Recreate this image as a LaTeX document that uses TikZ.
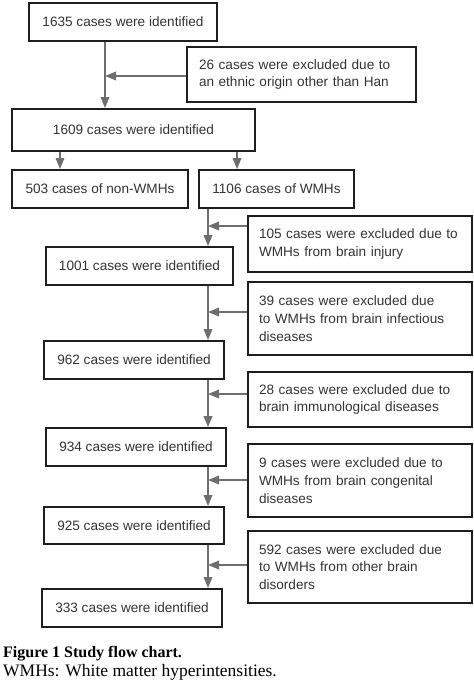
\documentclass[tikz,border=0pt]{standalone}
\usepackage{fontspec}
\setmainfont{Liberation Sans}
\newfontfamily\capfont{Liberation Serif}
\usepackage{xcolor}
\usetikzlibrary{arrows.meta, positioning}
\definecolor{linegray}{HTML}{6E6E6E}
\definecolor{boxline}{HTML}{1E1E1E}
\definecolor{boxtext}{HTML}{333333}
\tikzset{box/.style={draw=boxline, line width=1.8pt, minimum height=38pt, inner sep=0pt,
		text=boxtext, font=\fontsize{13.6}{17.7}\selectfont}}
\tikzset{exbox/.style={box, align=left, text width=#1, inner xsep=11pt}}
\tikzset{arr/.style={draw=linegray, line width=1.8pt, -{Triangle[length=11pt,width=8.5pt,fill=linegray]}}}
\tikzset{capt/.style={anchor=base west, inner sep=0pt, text=black}}

\begin{document}
\begin{tikzpicture}[x=1pt,y=-1pt]
			\useasboundingbox (0,0) rectangle (474,681);
			\node[box, minimum width=188pt] (b1635) at (123,22) {1635 cases were identified};
			\node[exbox=205pt, inner xsep=12pt, minimum height=55pt] (ex26) at (301.5,74.5) {26 cases were excluded due to\\an ethnic origin other than Han};
			\node[box, minimum width=243pt, minimum height=42pt] (b1609) at (133.5,130) {1609 cases were identified};
			\node[box, minimum width=176pt] (b503) at (100,189) {503 cases of non-WMHs};
			\node[box, minimum width=155pt] (b1106) at (276.5,189) {1106 cases of WMHs};
			\node[exbox=202pt, minimum height=56pt] (ex105) at (360,244) {105 cases were excluded due to\\WMHs from brain injury};
			\node[box, minimum width=187pt] (b1001) at (139.5,266) {1001 cases were identified};
			\node[exbox=202pt, minimum height=73pt] (ex39) at (360,318.5) {39 cases were excluded due\\to WMHs from brain infectious\\diseases};
			\node[box, minimum width=180pt] (b962) at (134,360) {962 cases were identified};
			\node[exbox=202pt, minimum height=55pt] (ex28) at (360,399.5) {28 cases were excluded due to\\brain immunological diseases};
			\node[box, minimum width=180pt] (b934) at (136,447) {934 cases were identified};
			\node[exbox=202pt, minimum height=73pt] (ex9) at (360,480.5) {9 cases were excluded due to\\WMHs from brain congenital\\diseases};
			\node[box, minimum width=180pt, minimum height=37pt] (b925) at (134,525.5) {925 cases were identified};
			\node[exbox=202pt, minimum height=72pt] (ex592) at (360,567) {592 cases were excluded due\\to WMHs from other brain\\disorders};
			\node[box, minimum width=180pt] (b333) at (132,608) {333 cases were identified};
			% columns of the main line
			\coordinate (colA) at (105,0);
			\coordinate (colB) at (60,0);
			\coordinate (colC) at (237,0);
			\coordinate (colD) at (208,0);
			% joins of the exclusions
			\coordinate (j26) at (105,76);
			\coordinate (j105) at (208,226);
			\coordinate (j39) at (208,312);
			\coordinate (j28) at (208,394);
			\coordinate (j9) at (208,480);
			\coordinate (j592) at (208,565);
			\draw[arr] (b1635.south -| colA) -- (b1609.north -| colA);
			\draw[arr] (ex26.west |- j26) -- (j26);
			\draw[arr] (b1609.south -| colB) -- (b503.north -| colB);
			\draw[arr] (b1609.south -| colC) -- (b1106.north -| colC);
			\draw[arr] (b1106.south -| colD) -- (b1001.north -| colD);
			\draw[arr] (ex105.west |- j105) -- (j105);
			\draw[arr] (b1001.south -| colD) -- (b962.north -| colD);
			\draw[arr] (ex39.west |- j39) -- (j39);
			\draw[arr] (b962.south -| colD) -- (b934.north -| colD);
			\draw[arr] (ex28.west |- j28) -- (j28);
			\draw[arr] (b934.south -| colD) -- (b925.north -| colD);
			\draw[arr] (ex9.west |- j9) -- (j9);
			\draw[arr] (b925.south -| colD) -- (b333.north -| colD);
			\draw[arr] (ex592.west |- j592) -- (j592);
			% caption
			\node[capt, font=\capfont\bfseries\fontsize{16}{19}\selectfont] (capt1) at (3,657) {Figure 1 Study flow chart.};
			\node[capt, font=\capfont\fontsize{17.5}{20}\selectfont] (capt2) at (3,676) {WMHs: White matter hyperintensities.};
		\end{tikzpicture}
\end{document}
